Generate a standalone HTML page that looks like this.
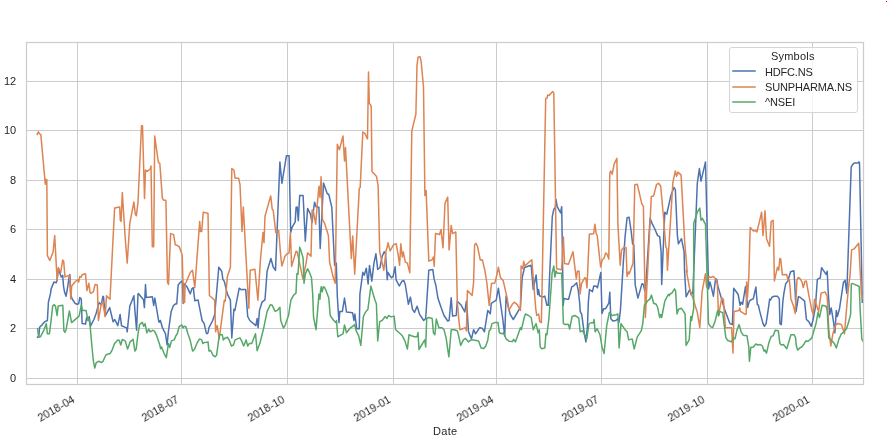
<!DOCTYPE html>
<html><head><meta charset="utf-8"><style>
html,body{margin:0;padding:0;background:#fff;}
body{width:887px;height:437px;position:relative;overflow:hidden;font-family:"Liberation Sans",sans-serif;color:#262626;}
.t{position:absolute;will-change:transform;font-size:11px;line-height:11px;white-space:nowrap;}
</style></head><body>
<svg width="887" height="437" viewBox="0 0 887 437" style="position:absolute;left:0;top:0">
<rect x="0" y="0" width="887" height="437" fill="#fff"/>
<line x1="77.5" y1="42.5" x2="77.5" y2="384.5" stroke="#cccccc" stroke-width="1"/>
<line x1="181.5" y1="42.5" x2="181.5" y2="384.5" stroke="#cccccc" stroke-width="1"/>
<line x1="287.5" y1="42.5" x2="287.5" y2="384.5" stroke="#cccccc" stroke-width="1"/>
<line x1="393.5" y1="42.5" x2="393.5" y2="384.5" stroke="#cccccc" stroke-width="1"/>
<line x1="496.5" y1="42.5" x2="496.5" y2="384.5" stroke="#cccccc" stroke-width="1"/>
<line x1="601.5" y1="42.5" x2="601.5" y2="384.5" stroke="#cccccc" stroke-width="1"/>
<line x1="707.5" y1="42.5" x2="707.5" y2="384.5" stroke="#cccccc" stroke-width="1"/>
<line x1="812.5" y1="42.5" x2="812.5" y2="384.5" stroke="#cccccc" stroke-width="1"/>
<line x1="26.5" y1="378.5" x2="863.5" y2="378.5" stroke="#cccccc" stroke-width="1"/>
<line x1="26.5" y1="328.5" x2="863.5" y2="328.5" stroke="#cccccc" stroke-width="1"/>
<line x1="26.5" y1="279.5" x2="863.5" y2="279.5" stroke="#cccccc" stroke-width="1"/>
<line x1="26.5" y1="229.5" x2="863.5" y2="229.5" stroke="#cccccc" stroke-width="1"/>
<line x1="26.5" y1="180.5" x2="863.5" y2="180.5" stroke="#cccccc" stroke-width="1"/>
<line x1="26.5" y1="130.5" x2="863.5" y2="130.5" stroke="#cccccc" stroke-width="1"/>
<line x1="26.5" y1="81.5" x2="863.5" y2="81.5" stroke="#cccccc" stroke-width="1"/>
<clipPath id="c"><rect x="26.5" y="42.5" width="837.0" height="342.0"/></clipPath>
<g clip-path="url(#c)" fill="none" stroke-width="1.5" stroke-linejoin="round" stroke-linecap="square">
<path d="M37.6,337.2 L38.8,336.4 L39.6,327.3 L42.3,324.6 L44.9,321.6 L47.4,320.5 L48.4,302.2 L50.6,293.1 L51.1,288.9 L53.9,282.1 L56.2,282.7 L57.1,279.9 L58.4,268.0 L59.5,272.0 L61.2,277.1 L62.7,275.4 L63.5,286.1 L64.6,292.3 L66.1,296.2 L68.0,284.9 L69.1,277.1 L69.9,274.6 L70.3,282.7 L70.8,295.1 L72.2,299.0 L74.9,303.2 L77.0,304.2 L78.7,303.7 L79.8,297.5 L81.3,299.2 L82.1,323.4 L85.5,324.0 L86.6,317.8 L88.3,319.5 L89.2,316.6 L90.5,326.2 L93.9,319.5 L96.2,313.3 L99.0,302.5 L101.2,304.8 L102.9,296.3 L103.5,296.9 L105.2,316.1 L109.7,307.6 L113.1,321.7 L114.8,319.5 L117.8,325.7 L120.1,314.4 L121.5,325.7 L126.6,327.9 L127.2,331.8 L129.8,306.3 L133.9,295.7 L134.9,310.4 L136.6,330.3 L138.0,294.1 L138.4,293.5 L143.5,299.7 L144.4,307.6 L145.5,284.5 L146.3,297.5 L152.3,296.7 L153.7,305.4 L154.8,298.0 L158.7,321.1 L160.4,320.6 L159.0,322.2 L160.4,320.5 L162.4,327.7 L165.5,333.8 L167.1,345.0 L168.5,330.7 L171.2,311.4 L173.6,305.3 L176.7,303.2 L176.7,304.0 L178.2,284.9 L180.1,282.6 L182.4,280.9 L183.2,303.5 L184.1,283.7 L186.9,286.6 L190.3,293.9 L191.9,288.8 L193.3,287.7 L194.8,300.7 L198.1,300.1 L200.1,310.4 L202.1,320.5 L204.2,323.6 L206.2,332.8 L207.0,333.8 L208.0,332.8 L209.0,327.7 L212.7,320.5 L214.7,314.4 L218.8,267.2 L221.7,271.3 L222.9,279.4 L224.3,281.4 L227.4,294.1 L230.4,300.2 L231.8,337.9 L233.9,309.3 L234.9,310.4 L239.2,288.2 L241.6,289.8 L242.6,289.6 L245.7,289.6 L247.7,316.5 L249.8,320.5 L255.9,325.6 L257.1,318.5 L258.1,327.7 L259.5,310.4 L262.0,302.2 L265.0,299.8 L267.1,271.3 L270.9,258.5 L273.2,267.0 L275.5,270.4 L279.9,161.9 L281.9,183.3 L286.4,155.8 L289.1,155.8 L290.7,232.6 L292.0,227.6 L295.2,221.9 L296.1,207.3 L297.2,207.0 L298.3,220.8 L299.7,195.5 L303.1,195.5 L305.3,241.1 L307.6,208.4 L310.4,214.0 L312.1,222.5 L313.4,210.7 L314.6,202.2 L316.0,206.7 L318.9,207.3 L320.2,248.4 L323.5,182.9 L327.2,193.5 L328.8,194.5 L331.8,207.3 L334.6,265.3 L336.3,263.0 L337.3,296.1 L339.0,322.6 L339.8,311.4 L342.4,311.4 L344.5,298.1 L346.5,312.0 L352.6,312.8 L354.0,320.5 L354.9,314.0 L356.7,328.7 L359.3,328.7 L359.9,294.1 L362.8,272.3 L364.2,275.3 L366.3,268.2 L368.1,283.9 L369.5,265.4 L371.8,281.2 L373.9,263.3 L375.9,253.7 L377.7,269.5 L380.0,267.5 L382.1,256.5 L384.2,251.7 L385.5,253.7 L387.3,279.8 L387.9,272.3 L391.4,277.8 L393.1,276.4 L395.1,266.8 L396.1,279.8 L399.3,286.0 L402.0,281.2 L403.8,280.5 L405.3,284.5 L408.4,304.3 L410.4,297.1 L412.5,309.3 L414.5,312.4 L417.1,306.3 L419.6,314.4 L423.7,320.5 L425.7,318.5 L428.8,270.2 L432.8,269.6 L434.2,279.4 L435.9,285.5 L437.9,298.1 L441.0,307.3 L444.0,315.5 L447.7,321.0 L449.1,320.5 L451.2,297.7 L452.6,316.1 L456.2,315.5 L457.3,301.2 L461.3,305.3 L464.8,312.0 L466.4,301.2 L467.4,314.4 L468.5,331.8 L471.5,338.9 L473.6,329.7 L475.6,333.8 L479.7,327.7 L482.3,328.3 L484.4,331.8 L487.8,310.4 L490.3,313.8 L491.3,303.4 L496.2,300.2 L498.4,288.2 L501.1,307.3 L502.7,318.5 L504.7,335.8 L506.1,296.1 L508.2,306.3 L510.2,314.4 L513.3,319.5 L520.4,307.3 L522.2,277.7 L524.5,267.5 L531.2,265.3 L533.2,289.5 L536.1,274.9 L537.7,294.6 L538.6,289.5 L539.5,295.7 L542.8,297.1 L544.8,296.1 L546.9,305.3 L548.3,305.3 L552.3,216.3 L553.8,209.5 L555.3,207.3 L556.0,199.4 L557.2,206.7 L560.6,212.9 L561.7,206.7 L563.2,305.3 L564.0,298.4 L567.0,299.2 L568.6,299.2 L571.8,286.7 L573.5,286.1 L576.7,282.8 L578.3,290.7 L579.6,302.2 L580.2,311.4 L581.7,314.4 L584.3,333.8 L585.9,341.9 L587.4,326.7 L588.4,301.2 L589.5,289.5 L592.4,291.7 L593.8,285.9 L596.5,286.3 L597.4,287.8 L599.1,280.4 L600.8,272.5 L602.0,313.4 L603.7,308.7 L605.7,308.7 L608.8,303.2 L609.8,292.3 L610.8,318.5 L612.8,321.0 L615.9,320.5 L617.9,318.5 L618.9,322.6 L620.4,310.4 L623.4,261.3 L625.0,237.7 L627.1,217.7 L629.1,217.3 L631.2,231.5 L632.6,243.8 L633.8,244.8 L635.2,284.9 L637.9,298.1 L642.0,283.8 L643.4,284.4 L644.8,291.1 L645.9,283.8 L650.1,218.3 L652.5,224.4 L654.6,228.5 L657.6,235.6 L659.7,236.6 L661.1,251.9 L661.7,284.4 L664.8,212.2 L666.8,214.2 L670.9,195.5 L673.9,187.4 L675.3,189.4 L677.4,235.6 L678.4,243.8 L681.5,238.7 L684.1,251.9 L684.6,272.5 L686.1,296.8 L689.7,289.5 L691.4,295.1 L692.9,291.7 L697.3,183.3 L699.4,168.6 L701.0,181.2 L705.5,161.9 L708.6,288.9 L710.0,282.1 L711.1,286.1 L713.4,296.2 L715.6,278.7 L716.8,279.3 L717.9,286.1 L724.2,308.3 L729.9,323.6 L732.4,324.6 L733.7,288.3 L738.2,294.5 L740.1,305.3 L741.1,302.2 L742.6,304.3 L745.5,286.6 L747.7,307.4 L749.4,301.1 L751.1,299.7 L753.3,298.9 L755.0,291.0 L755.9,287.1 L757.3,304.5 L758.4,305.1 L759.5,310.4 L763.0,323.6 L764.4,326.3 L766.1,323.6 L768.1,310.4 L769.7,298.9 L770.6,300.0 L771.9,297.2 L774.2,296.3 L777.6,296.3 L779.3,298.9 L779.9,323.6 L781.3,324.6 L782.8,302.2 L783.8,293.8 L785.7,283.7 L787.5,281.4 L789.4,275.8 L790.6,271.8 L793.9,270.7 L794.7,282.5 L796.1,311.4 L798.4,296.6 L800.1,297.2 L804.6,301.1 L806.4,319.5 L808.8,321.6 L811.3,326.3 L812.9,320.5 L815.4,307.4 L817.3,279.7 L818.2,278.6 L820.2,278.0 L821.6,267.7 L823.2,270.1 L826.1,274.4 L827.2,271.3 L828.3,293.8 L829.8,314.4 L831.2,307.9 L833.3,320.5 L834.9,332.8 L836.3,310.4 L837.3,316.5 L839.4,309.3 L843.4,282.5 L845.1,280.3 L846.8,293.3 L851.2,167.0 L852.6,164.6 L854.2,163.0 L858.3,163.0 L858.9,161.9 L859.5,162.5 L862.3,302.3" stroke="#4c72b0"/>
<path d="M37.2,134.4 L38.4,131.8 L39.6,134.0 L40.8,134.4 L45.3,184.3 L45.7,179.6 L46.8,179.6 L47.4,255.6 L49.8,260.5 L53.1,251.9 L54.7,235.6 L57.1,280.4 L58.4,268.0 L60.7,272.5 L62.7,260.1 L63.7,261.3 L65.0,277.1 L67.2,275.9 L69.5,275.4 L70.8,299.0 L71.7,286.1 L75.9,281.0 L78.1,279.5 L78.7,282.1 L79.8,276.5 L81.2,277.1 L82.1,274.8 L85.5,273.7 L86.9,290.6 L88.9,283.3 L90.0,292.3 L90.9,293.4 L93.4,291.7 L95.1,284.4 L97.3,284.9 L98.4,320.6 L101.2,304.2 L102.7,302.0 L105.2,316.6 L106.5,295.8 L110.0,299.2 L114.6,208.1 L119.7,207.1 L120.3,220.3 L121.1,221.4 L122.3,192.4 L125.2,237.7 L127.2,263.1 L129.8,223.4 L133.9,202.0 L135.3,214.2 L136.4,215.7 L138.0,202.0 L141.5,125.8 L142.5,125.8 L144.5,198.6 L145.5,170.0 L147.2,171.5 L150.2,169.0 L151.0,166.0 L152.3,246.8 L153.7,246.8 L154.7,136.0 L158.4,162.5 L159.8,163.3 L162.4,198.6 L163.9,200.2 L165.9,200.2 L167.5,282.5 L168.5,284.5 L170.6,233.6 L173.6,234.6 L175.3,244.8 L177.3,245.4 L179.3,246.8 L182.2,255.0 L183.5,302.4 L184.6,302.4 L185.2,284.3 L190.3,272.5 L192.5,270.2 L194.8,287.7 L199.7,221.4 L200.5,231.5 L201.7,231.5 L203.2,212.2 L206.2,212.8 L207.0,213.2 L208.0,213.2 L209.4,295.5 L214.7,300.2 L215.6,331.8 L217.2,325.6 L219.2,338.9 L224.3,300.2 L225.3,301.2 L227.4,276.4 L230.4,267.2 L231.8,168.6 L233.9,170.0 L235.1,178.2 L238.6,178.2 L240.0,184.3 L242.0,231.5 L243.3,207.1 L248.8,308.3 L250.2,270.2 L254.9,269.2 L257.9,300.2 L260.4,260.1 L263.0,232.6 L264.0,242.8 L265.0,216.3 L268.1,205.1 L270.7,195.9 L272.2,209.1 L273.2,210.2 L275.8,232.6 L278.7,230.5 L280.7,256.0 L281.9,265.9 L285.0,256.3 L287.1,253.8 L289.0,253.1 L290.4,232.6 L291.6,266.4 L296.1,251.2 L297.2,251.8 L302.9,278.8 L305.9,264.2 L307.6,252.9 L311.0,256.3 L312.1,210.1 L313.2,210.7 L315.7,224.2 L317.7,199.4 L319.0,186.3 L320.0,197.5 L321.1,176.8 L322.5,219.7 L324.5,223.1 L328.4,235.5 L329.6,261.9 L333.0,276.6 L335.2,283.3 L337.3,144.2 L339.4,149.7 L343.0,136.0 L344.5,160.9 L345.5,147.6 L351.3,258.5 L352.7,236.0 L354.7,274.3 L359.3,188.4 L360.2,187.4 L362.8,132.0 L364.8,133.4 L367.5,138.9 L368.5,72.1 L369.3,103.1 L371.2,106.1 L372.0,171.5 L376.4,176.2 L378.1,185.3 L379.7,251.9 L383.8,270.2 L386.2,249.9 L387.0,247.8 L388.0,242.8 L390.1,250.9 L393.5,244.8 L396.2,243.8 L398.2,255.0 L399.6,265.2 L400.8,243.8 L402.3,257.0 L403.3,251.9 L405.3,262.1 L407.4,263.1 L409.8,272.7 L411.8,131.3 L415.9,114.0 L417.0,65.4 L418.0,57.3 L420.0,56.8 L421.1,61.3 L423.5,86.8 L424.9,195.5 L426.1,190.4 L428.8,261.1 L432.2,259.7 L433.4,257.0 L434.2,266.2 L435.5,233.6 L439.5,234.6 L441.0,229.5 L443.0,247.8 L445.0,203.4 L447.7,197.1 L449.1,249.9 L451.2,225.4 L452.6,233.6 L455.8,232.0 L457.3,301.2 L458.7,318.5 L459.9,329.7 L465.4,327.7 L466.4,330.7 L467.4,290.6 L472.1,295.5 L473.6,282.3 L474.6,244.8 L476.0,243.2 L477.6,246.8 L480.3,260.1 L482.3,259.7 L484.8,270.2 L486.8,282.5 L489.2,305.3 L491.5,283.5 L494.9,282.9 L497.0,274.3 L498.4,267.2 L500.4,277.4 L503.1,280.4 L507.2,298.1 L508.8,310.4 L512.3,304.3 L514.3,302.2 L517.3,304.7 L520.4,310.4 L521.1,265.9 L522.8,268.7 L523.7,261.3 L524.8,265.9 L531.8,259.7 L535.7,308.3 L536.7,315.5 L538.7,314.0 L539.7,321.6 L541.4,322.6 L545.7,98.4 L547.1,98.0 L547.7,94.9 L549.1,95.5 L552.6,91.5 L553.8,92.9 L556.6,268.7 L561.7,269.8 L563.4,237.1 L564.5,263.6 L568.4,264.2 L573.0,251.8 L576.3,278.8 L577.5,270.9 L579.2,271.5 L580.1,294.0 L581.4,283.9 L584.8,277.7 L585.9,278.3 L587.0,287.8 L589.3,234.3 L593.6,233.8 L594.9,224.2 L596.1,233.2 L597.2,235.5 L600.6,267.0 L602.3,259.7 L604.0,258.5 L605.6,252.9 L607.0,254.0 L608.8,259.0 L609.8,173.1 L610.8,171.1 L612.2,174.1 L614.2,163.9 L616.9,158.4 L617.9,224.4 L620.2,265.2 L621.6,249.9 L624.4,246.8 L626.1,247.8 L627.0,276.5 L628.4,272.0 L629.2,273.7 L633.0,263.5 L634.8,184.7 L637.3,184.3 L641.9,204.1 L643.4,206.1 L645.4,317.5 L651.3,196.5 L653.6,195.9 L656.6,184.3 L658.6,183.3 L660.7,186.3 L663.7,219.3 L665.8,246.8 L666.8,248.9 L667.4,270.2 L672.9,182.3 L675.3,171.1 L676.6,176.2 L678.0,172.1 L681.1,175.1 L684.7,241.7 L687.2,272.3 L686.3,270.3 L689.7,288.9 L691.4,294.0 L692.9,298.1 L697.3,312.4 L699.8,327.7 L702.1,291.7 L705.5,273.7 L706.6,287.2 L708.0,277.1 L708.9,276.5 L710.6,277.6 L713.4,276.5 L715.6,278.7 L717.3,283.8 L718.5,315.9 L721.8,297.7 L723.4,299.2 L725.4,327.7 L731.6,327.7 L733.0,353.1 L734.0,311.4 L739.1,310.4 L739.7,307.9 L740.5,311.4 L745.2,314.4 L746.2,314.0 L746.6,282.0 L747.5,297.2 L748.8,276.9 L750.2,227.5 L753.4,231.1 L755.5,230.5 L756.9,232.0 L759.5,221.4 L761.6,212.2 L763.0,235.6 L765.0,210.8 L766.5,238.7 L769.5,246.2 L771.2,221.4 L773.2,220.3 L774.4,280.9 L777.4,267.3 L778.7,270.1 L779.9,258.4 L780.7,259.0 L782.3,274.7 L786.6,274.4 L788.3,280.9 L789.4,279.7 L790.9,298.9 L793.6,306.3 L795.2,313.4 L797.0,279.7 L798.4,277.5 L800.1,278.6 L802.2,282.5 L803.3,287.6 L804.9,281.4 L806.3,280.9 L809.2,297.2 L811.9,310.4 L813.3,314.4 L814.5,299.2 L818.6,311.4 L821.1,293.1 L825.1,292.0 L827.2,296.1 L828.8,329.7 L830.8,346.0 L832.9,333.8 L835.3,325.6 L837.3,323.6 L841.4,324.6 L844.5,333.8 L846.5,309.3 L848.4,288.2 L850.1,274.7 L851.6,249.9 L854.0,248.9 L858.7,243.2 L861.4,293.8 L862.3,298.3" stroke="#dd8452"/>
<path d="M37.6,328.7 L38.6,337.2 L40.4,336.8 L43.7,330.7 L46.3,323.6 L47.4,333.8 L49.4,333.8 L50.6,324.6 L52.7,305.9 L54.3,304.7 L55.5,306.3 L57.1,315.5 L58.2,305.9 L62.8,305.3 L63.9,330.7 L64.9,332.4 L66.1,329.7 L69.4,311.0 L71.6,322.6 L75.9,318.9 L79.1,316.1 L81.2,305.3 L82.6,310.4 L86.1,310.4 L87.9,320.5 L88.9,318.5 L90.1,325.6 L91.8,345.0 L93.4,361.3 L94.8,368.0 L96.2,362.7 L98.7,361.3 L101.5,362.5 L103.0,361.3 L106.0,354.8 L110.1,353.5 L112.1,350.1 L114.6,343.4 L117.8,339.9 L119.3,340.5 L120.7,345.0 L122.3,339.5 L125.2,340.9 L127.6,349.1 L130.1,341.9 L133.1,339.3 L134.9,351.1 L136.2,349.1 L138.0,333.8 L139.6,324.6 L142.3,322.2 L143.7,326.3 L145.1,323.6 L146.8,332.8 L148.8,329.1 L150.2,331.8 L152.5,330.3 L154.5,331.1 L156.5,335.2 L159.8,345.0 L160.6,348.7 L161.6,347.0 L163.9,353.1 L166.3,357.6 L168.5,343.4 L169.8,347.4 L171.4,340.9 L174.2,339.9 L175.9,335.8 L177.3,333.8 L179.3,326.3 L181.8,325.0 L183.0,327.9 L184.2,326.3 L185.9,326.7 L187.9,333.8 L190.1,339.9 L192.6,351.1 L194.4,349.5 L197.3,342.5 L199.7,338.9 L201.7,339.9 L202.8,343.6 L204.2,342.5 L207.0,342.3 L208.0,341.9 L209.0,351.1 L210.7,350.5 L212.7,354.8 L215.1,356.8 L216.6,355.2 L218.8,338.9 L219.6,334.4 L222.3,334.8 L223.3,339.9 L224.9,338.3 L227.4,337.2 L229.4,340.5 L231.4,346.0 L233.5,345.0 L235.1,339.9 L237.5,338.9 L240.0,337.9 L241.6,340.9 L243.7,346.0 L246.1,339.9 L247.7,346.0 L249.4,343.4 L251.8,343.4 L255.5,333.8 L257.1,350.7 L260.0,343.0 L264.0,326.7 L267.1,311.4 L270.5,304.7 L272.2,305.3 L275.2,311.4 L277.3,310.4 L279.9,307.3 L280.7,320.5 L283.4,328.1 L285.4,324.6 L288.5,315.5 L290.9,300.2 L293.6,295.1 L296.0,293.1 L296.9,273.7 L298.0,274.3 L299.7,247.3 L300.8,250.1 L303.1,258.0 L304.0,283.3 L305.3,274.3 L307.6,268.7 L309.3,272.1 L311.5,277.7 L312.7,294.0 L313.5,316.5 L316.0,329.7 L319.0,294.1 L320.0,299.2 L320.6,290.1 L321.3,286.7 L322.2,291.8 L323.4,286.7 L324.5,287.3 L325.6,289.5 L328.8,298.1 L330.2,315.5 L333.7,320.5 L335.7,322.6 L336.5,320.5 L337.8,336.8 L339.4,335.8 L343.0,333.8 L344.5,325.0 L346.5,332.8 L349.6,328.7 L352.6,326.3 L354.7,324.6 L356.1,330.7 L358.7,335.8 L360.8,345.4 L363.4,316.5 L365.4,312.4 L367.9,309.3 L370.9,286.1 L375.0,300.2 L376.4,303.8 L377.7,340.9 L379.7,321.6 L382.1,320.5 L385.2,316.5 L387.0,318.5 L388.6,315.5 L391.1,316.9 L394.1,316.1 L395.6,329.7 L399.2,332.8 L402.3,335.8 L404.9,340.9 L407.4,349.1 L409.0,334.8 L411.4,335.8 L414.5,336.8 L417.1,336.8 L418.0,332.4 L419.0,349.5 L421.6,345.0 L424.7,339.9 L425.7,347.0 L426.7,318.5 L428.8,317.5 L432.2,318.5 L433.4,332.8 L434.9,334.8 L436.3,319.1 L438.9,327.7 L442.0,327.7 L444.0,329.7 L446.1,337.9 L447.7,349.1 L448.9,356.8 L451.2,329.7 L454.2,329.7 L457.3,330.7 L458.3,334.4 L460.7,345.4 L463.4,339.9 L465.4,338.3 L468.5,341.9 L470.9,339.9 L473.6,339.9 L478.6,340.9 L481.1,348.0 L483.7,348.5 L485.8,346.0 L487.8,339.9 L489.2,330.7 L490.5,329.7 L491.9,323.6 L494.9,322.6 L498.0,322.6 L499.4,332.8 L502.1,333.8 L503.5,332.8 L506.1,338.9 L509.2,341.3 L512.3,341.5 L513.7,339.3 L515.3,341.9 L517.3,336.8 L520.4,327.7 L521.4,329.7 L524.5,316.5 L525.5,314.0 L528.5,315.5 L531.2,317.5 L533.2,329.7 L536.1,323.6 L538.1,332.8 L539.3,329.7 L540.2,347.0 L541.8,348.7 L544.8,348.0 L545.9,333.8 L546.9,334.8 L548.9,318.5 L552.1,273.2 L553.8,265.9 L554.9,277.1 L556.0,270.9 L557.2,273.2 L561.7,273.2 L563.4,323.6 L565.2,324.6 L567.0,324.2 L568.6,324.6 L569.6,329.1 L572.1,316.5 L574.7,315.5 L577.2,316.9 L578.8,318.1 L580.2,331.8 L582.3,330.7 L584.9,334.8 L586.8,338.9 L589.0,323.6 L591.8,322.6 L593.5,323.0 L594.1,319.5 L595.1,331.8 L597.1,328.7 L600.0,334.8 L602.0,347.0 L604.1,353.5 L606.7,325.6 L609.4,312.4 L612.2,315.5 L615.9,314.8 L617.9,314.0 L619.1,348.0 L621.0,323.6 L625.0,329.7 L627.1,331.8 L628.7,339.9 L632.2,338.9 L634.2,349.1 L637.3,336.8 L639.3,333.8 L641.3,330.7 L642.8,323.6 L644.4,305.3 L647.4,301.2 L650.1,298.6 L651.5,295.1 L653.6,303.2 L656.2,304.3 L657.6,307.3 L659.7,317.5 L660.7,314.4 L661.7,317.5 L664.8,301.2 L668.3,294.5 L669.2,295.7 L670.5,293.4 L671.7,293.4 L674.5,288.9 L675.6,291.1 L677.0,314.0 L678.6,309.3 L681.5,308.3 L683.5,311.4 L685.1,314.0 L686.1,345.4 L689.2,339.9 L690.8,316.5 L691.6,320.5 L693.7,308.3 L693.7,223.4 L697.3,212.2 L699.8,208.1 L701.0,220.3 L702.4,218.3 L705.5,224.4 L708.5,323.6 L710.6,326.7 L712.6,327.7 L715.3,320.5 L717.7,310.4 L718.7,315.5 L719.7,311.4 L722.8,312.8 L723.8,321.6 L725.9,337.9 L727.9,340.5 L731.6,341.9 L733.6,337.9 L735.0,338.9 L737.1,329.7 L739.1,324.6 L741.1,331.8 L743.2,335.2 L747.0,335.8 L748.8,347.0 L749.4,361.3 L750.8,347.4 L753.4,347.0 L755.9,344.0 L757.9,345.0 L760.4,344.6 L762.4,346.0 L764.0,351.1 L765.0,350.1 L766.5,353.1 L769.1,341.9 L771.2,336.4 L773.2,335.8 L775.2,330.3 L778.3,330.7 L779.9,343.4 L781.3,345.0 L783.4,344.6 L786.8,348.7 L788.5,343.0 L790.9,334.8 L794.2,334.8 L795.6,337.9 L796.2,345.0 L797.6,350.1 L799.7,348.0 L801.7,347.0 L803.7,344.6 L805.8,340.9 L807.8,341.3 L809.8,339.9 L811.9,337.9 L813.3,332.8 L816.0,323.6 L818.0,312.4 L819.4,317.5 L822.1,305.3 L826.1,306.3 L827.2,310.4 L828.8,337.9 L831.2,339.9 L834.3,343.4 L836.3,348.0 L839.0,338.9 L841.4,333.8 L843.9,331.8 L846.5,328.7 L848.5,322.6 L850.6,314.4 L851.3,284.2 L852.4,283.4 L859.2,286.5 L860.2,310.4 L861.8,338.9 L862.8,340.9" stroke="#55a868"/>
</g>
<rect x="26.5" y="42.5" width="837.0" height="342.0" fill="none" stroke="#cccccc" stroke-width="1.25"/>
</svg>
<div class="t" style="right:871px;top:372.6px;text-align:right">0</div>
<div class="t" style="right:871px;top:322.6px;text-align:right">2</div>
<div class="t" style="right:871px;top:273.6px;text-align:right">4</div>
<div class="t" style="right:871px;top:223.6px;text-align:right">6</div>
<div class="t" style="right:871px;top:174.6px;text-align:right">8</div>
<div class="t" style="right:871px;top:124.6px;text-align:right">10</div>
<div class="t" style="right:871px;top:75.6px;text-align:right">12</div>
<div class="t" style="left:71.0px;top:394.0px;transform-origin:100% 0;transform:translateX(-100%) rotate(-30deg)">2018-04</div>
<div class="t" style="left:175.0px;top:394.0px;transform-origin:100% 0;transform:translateX(-100%) rotate(-30deg)">2018-07</div>
<div class="t" style="left:281.0px;top:394.0px;transform-origin:100% 0;transform:translateX(-100%) rotate(-30deg)">2018-10</div>
<div class="t" style="left:387.0px;top:394.0px;transform-origin:100% 0;transform:translateX(-100%) rotate(-30deg)">2019-01</div>
<div class="t" style="left:490.0px;top:394.0px;transform-origin:100% 0;transform:translateX(-100%) rotate(-30deg)">2019-04</div>
<div class="t" style="left:595.0px;top:394.0px;transform-origin:100% 0;transform:translateX(-100%) rotate(-30deg)">2019-07</div>
<div class="t" style="left:701.0px;top:394.0px;transform-origin:100% 0;transform:translateX(-100%) rotate(-30deg)">2019-10</div>
<div class="t" style="left:806.0px;top:394.0px;transform-origin:100% 0;transform:translateX(-100%) rotate(-30deg)">2020-01</div>
<div class="t" style="left:433px;top:426px;letter-spacing:0.3px">Date</div>
<div style="position:absolute;left:729px;top:47px;width:129px;height:66px;border:1px solid #d6d6d6;border-radius:3px;background:rgba(255,255,255,0.8);box-sizing:border-box"></div>
<div class="t" style="left:771px;top:51px;letter-spacing:0.2px">Symbols</div>
<div class="t" style="left:765px;top:67px;letter-spacing:-0.18px">HDFC.NS</div>
<div class="t" style="left:765px;top:82px;letter-spacing:-0.14px">SUNPHARMA.NS</div>
<div class="t" style="left:765px;top:97px;letter-spacing:-0.15px">^NSEI</div>
<svg width="887" height="437" style="position:absolute;left:0;top:0"><g stroke-width="1.5" stroke-linecap="square">
<line x1="733" y1="71" x2="755" y2="71" stroke="#4c72b0"/>
<line x1="733" y1="87" x2="755" y2="87" stroke="#dd8452"/>
<line x1="733" y1="102" x2="755" y2="102" stroke="#55a868"/>
</g></svg>
<div style="position:absolute;left:886px;top:1px;width:1px;height:1px;background:#ff0000"></div>
</body></html>
